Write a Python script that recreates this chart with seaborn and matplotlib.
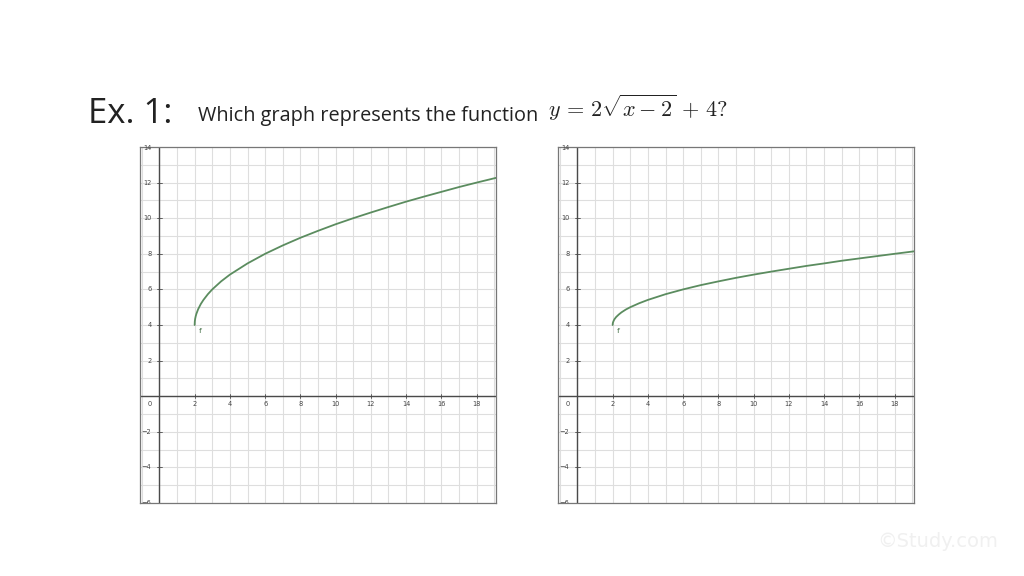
"""Ex. 1 slide: two candidate graphs for y = 2*sqrt(x-2) + 4."""
import matplotlib.pyplot as plt
import numpy as np
import pandas as pd
import seaborn as sns

# points
left_x = [2.0, 2.01, 2.03, 2.06, 2.1, 2.2, 2.35, 2.5, 2.75, 3.0, 3.5, 4.0, 5.0, 6.0,
          7.0, 8.0, 9.0, 10.0, 11.0, 12.0, 13.0, 14.0, 15.0, 16.0, 17.0, 18.0, 19.2]
left_y = [4.0, 4.2, 4.35, 4.49, 4.63, 4.89, 5.18, 5.41, 5.73, 6.0, 6.45, 6.83, 7.46, 8.0,
          8.47, 8.9, 9.29, 9.66, 10.0, 10.32, 10.63, 10.93, 11.21, 11.48, 11.75, 12.0, 12.29]

# points
right_x = [2.0, 2.01, 2.03, 2.06, 2.1, 2.2, 2.35, 2.5, 2.75, 3.0, 3.5, 4.0, 5.0, 6.0,
           7.0, 8.0, 9.0, 10.0, 11.0, 12.0, 13.0, 14.0, 15.0, 16.0, 17.0, 18.0, 19.2]
right_y = [4.0, 4.1, 4.17, 4.24, 4.32, 4.45, 4.59, 4.71, 4.87, 5.0, 5.22, 5.41, 5.73, 6.0,
           6.24, 6.45, 6.65, 6.83, 7.0, 7.16, 7.32, 7.46, 7.61, 7.74, 7.87, 8.0, 8.15]

x_ticks = [2, 4, 6, 8, 10, 12, 14, 16, 18]
y_ticks = [-6, -4, -2, 2, 4, 6, 8, 10, 12, 14]

CURVE = "#5b8c5f"
GRID = "#dedede"
AXIS = "#4a4a4a"

sns.set_style("white")
plt.rcParams["font.family"] = ["Open Sans", "DejaVu Sans"]
plt.rcParams["mathtext.fontset"] = "cm"


def graph(ax, xs, ys):
    df = pd.DataFrame({"x": xs, "y": ys})
    ax.set_xlim(-1.1, 19.1)
    ax.set_ylim(-6, 14)
    ax.set_xticks(np.arange(-1, 20, 1))
    ax.set_yticks(np.arange(-6, 15, 1))
    ax.grid(True, color=GRID, lw=0.8)
    ax.tick_params(length=0, labelbottom=False, labelleft=False)
    ax.axhline(0, color=AXIS, lw=1.0, zorder=2)
    ax.axvline(0, color=AXIS, lw=1.0, zorder=2)
    for s in ax.spines.values():
        s.set_color("#777777")
        s.set_linewidth(0.9)
    # small tick marks on the axes
    for t in x_ticks:
        ax.plot([t, t], [-0.12, 0.12], color=AXIS, lw=0.6, zorder=2)
    for t in y_ticks:
        ax.plot([-0.12, 0.12], [t, t], color=AXIS, lw=0.6, zorder=2)
    for t in x_ticks:
        ax.text(t, -0.45, str(t), fontsize=4.8, ha="center", va="center",
                color="#444444", family="DejaVu Sans")
    for t in y_ticks:
        ax.text(-0.45, t - 0.05 if t == 14 else t, str(t).replace("-", "\u2212"),
                fontsize=4.8, ha="right", va="center", color="#444444",
                family="DejaVu Sans", clip_on=(t == -6))
    ax.text(-0.45, -0.45, "0", fontsize=4.8, ha="right", va="center",
            color="#444444", family="DejaVu Sans")
    sns.lineplot(data=df, x="x", y="y", ax=ax, sort=False, color=CURVE, lw=1.3,
                 zorder=3)
    ax.text(2.3, 3.65, "f", fontsize=6, color="#3d6b40", ha="center", va="center")
    ax.set_xlabel("")
    ax.set_ylabel("")


fig = plt.figure(figsize=(10.24, 5.76), dpi=100)
ax1 = fig.add_axes([140 / 1024, 1 - 503 / 576, 356 / 1024, 356 / 576])
ax2 = fig.add_axes([558 / 1024, 1 - 503 / 576, 356 / 1024, 356 / 576])
graph(ax1, left_x, left_y)
graph(ax2, right_x, right_y)

fig.text(88 / 1024, 1 - 123 / 576, "Ex. 1:", fontsize=25, color="#222222",
         va="baseline")
fig.text(198 / 1024, 1 - 121 / 576, "Which graph represents the function",
         fontsize=14.3, color="#222222", va="baseline")
fig.text(548 / 1024, 1 - 117 / 576, r"$y\,=\,2\sqrt{x-2}\,+\,4?$", fontsize=16,
         color="#222222", va="baseline")
fig.text(0.975, 0.06, "\u00a9Study.com", fontsize=14, color="#f0f0f0",
         ha="right", va="center", family="DejaVu Sans")

fig.savefig("out.png", dpi=100)
